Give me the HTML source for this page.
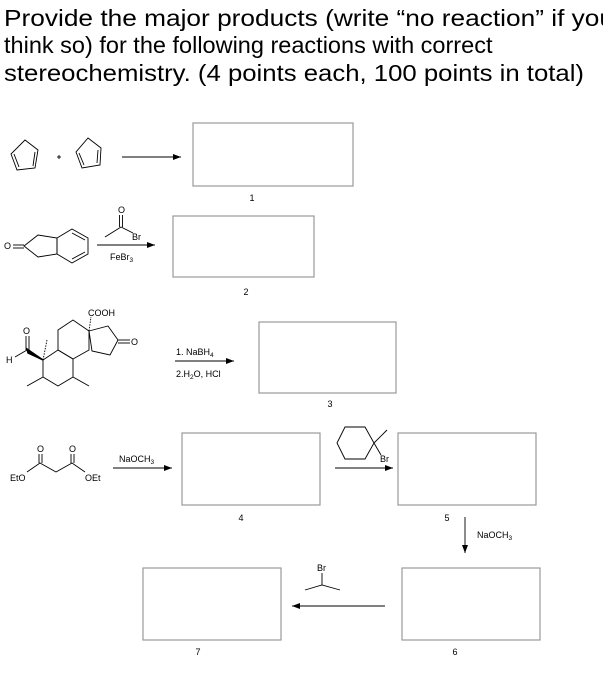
<!DOCTYPE html>
<html><head><meta charset="utf-8"><style>
html,body{margin:0;padding:0;background:#fff;}
svg{display:block;font-family:"Liberation Sans",Arial,sans-serif;}
</style></head><body>
<svg width="603" height="700" viewBox="0 0 603 700" xmlns="http://www.w3.org/2000/svg">
<defs><marker id="ah" markerWidth="8" markerHeight="6" refX="8" refY="3" orient="auto" markerUnits="userSpaceOnUse"><path d="M0,0 L8,3 L0,6 z" fill="#000"/></marker></defs>
<g font-size="23.5" fill="#000">
<text x="4" y="26" textLength="610" lengthAdjust="spacingAndGlyphs">Provide the major products (write “no reaction” if you</text>
<text x="4" y="53">think so) for the following reactions with correct</text>
<text x="4" y="81" textLength="580" lengthAdjust="spacingAndGlyphs">stereochemistry. (4 points each, 100 points in total)</text>
</g>
<g fill="none" stroke="#999" stroke-width="1.2">
<rect x="193" y="123" width="160" height="63"/>
<rect x="173" y="216" width="141" height="61"/>
<rect x="259" y="322" width="137" height="71"/>
<rect x="182" y="433" width="138" height="72"/>
<rect x="398" y="433" width="138" height="72"/>
<rect x="402" y="568" width="138" height="72"/>
<rect x="143" y="568" width="138" height="72"/>
</g>
<g font-size="9" fill="#000" text-anchor="middle">
<text x="252" y="201">1</text><text x="246" y="295">2</text><text x="330" y="407">3</text>
<text x="241" y="521">4</text><text x="447" y="521">5</text><text x="455" y="655">6</text><text x="198" y="655">7</text>
</g>
<g stroke="#000" stroke-width="0.9" fill="none">
<line x1="122" y1="157" x2="181" y2="157" marker-end="url(#ah)"/>
<line x1="97" y1="245" x2="155" y2="245" marker-end="url(#ah)"/>
<line x1="175" y1="361" x2="234" y2="361" marker-end="url(#ah)"/>
<line x1="113" y1="468" x2="172" y2="468" marker-end="url(#ah)"/>
<line x1="335" y1="468" x2="393" y2="468" marker-end="url(#ah)"/>
<line x1="465" y1="517" x2="465" y2="553" marker-end="url(#ah)"/>
<line x1="385" y1="606" x2="292" y2="606" marker-end="url(#ah)"/>
<polygon points="25,140 38,150 35,168 17,170 11,154"/>
<line x1="35" y1="152" x2="33" y2="166"/><line x1="14" y1="154" x2="19" y2="167"/>
<polygon points="88,138 101,148 100,165 82,168 76,152"/>
<line x1="98" y1="150" x2="97" y2="163"/><line x1="79" y1="153" x2="84" y2="165"/>
<line x1="57" y1="157" x2="61" y2="157"/><line x1="59" y1="155" x2="59" y2="159"/>
<polygon points="24,246 38,235 57,238 57,254 38,257"/>
<polygon points="57,238 72,229 88,238 88,254 72,263 57,254"/>
<line x1="72" y1="233" x2="85" y2="240"/><line x1="85" y1="252" x2="72" y2="259"/>
<line x1="13" y1="245" x2="24" y2="245"/><line x1="13" y1="248" x2="24" y2="248"/>
<!-- acetyl bromide -->
<polyline points="105,237 121,227 133,233"/>
<line x1="119.5" y1="227" x2="119.5" y2="215"/><line x1="122.5" y1="227" x2="122.5" y2="215"/>
<polygon points="58,330 73,320 89,331 89,350 73,359 58,350"/>
<polygon points="89,331 108,326 118,340 110,355 92,351"/>
<polygon points="43,360 58,350 73,359 73,377 58,386 43,377"/>
<line x1="73" y1="377" x2="89" y2="386"/><line x1="43" y1="377" x2="27" y2="386"/>
<line x1="118" y1="340" x2="130" y2="340"/><line x1="118" y1="343" x2="130" y2="343"/>
<line x1="89" y1="331" x2="91" y2="317" stroke-dasharray="1.5,1.2"/>
<line x1="43" y1="360" x2="47" y2="340" stroke-dasharray="1.5,1.2"/>
<polyline points="27,350 15,357"/>
<line x1="26" y1="350" x2="26" y2="336"/><line x1="29" y1="350" x2="29" y2="336"/>
<polyline points="27,472 40,463 56,472 72,463 85,472"/>
<line x1="39" y1="463" x2="39" y2="454"/><line x1="42" y1="463" x2="42" y2="454"/>
<line x1="71" y1="463" x2="71" y2="454"/><line x1="74" y1="463" x2="74" y2="454"/>
<polygon points="337,443 345,427 365,427 374,443 365,459 345,459"/>
<line x1="374" y1="443" x2="387" y2="430"/><line x1="374" y1="443" x2="381" y2="455"/>
<line x1="322" y1="573" x2="322" y2="585"/><polyline points="305,590 322,585 340,590"/>
</g>
<polygon points="43,360 27,349 28,353" fill="#000" stroke="#000" stroke-width="1.5"/>
<g font-size="9" fill="#000">
<text x="4" y="249">O</text>
<text x="132" y="240">Br</text>
<text x="118" y="213">O</text>
<text x="110" y="260">FeBr<tspan font-size="6.5" dy="2">3</tspan></text>
<text x="88" y="316">COOH</text>
<text x="131" y="345">O</text>
<text x="23" y="334">O</text>
<text x="6" y="363">H</text>
<text x="176" y="355">1. NaBH<tspan font-size="6.5" dy="2">4</tspan></text>
<text x="176" y="377">2.H<tspan font-size="6.5" dy="2">2</tspan><tspan dy="-2">O, HCl</tspan></text>
<text x="37" y="452">O</text><text x="69" y="452">O</text>
<text x="10" y="481">EtO</text><text x="85" y="481">OEt</text>
<text x="119" y="462">NaOCH<tspan font-size="6.5" dy="2">3</tspan></text>
<text x="380" y="462">Br</text>
<text x="477" y="538">NaOCH<tspan font-size="6.5" dy="2">3</tspan></text>
<text x="317" y="571">Br</text>
</g>
</svg>
</body></html>
